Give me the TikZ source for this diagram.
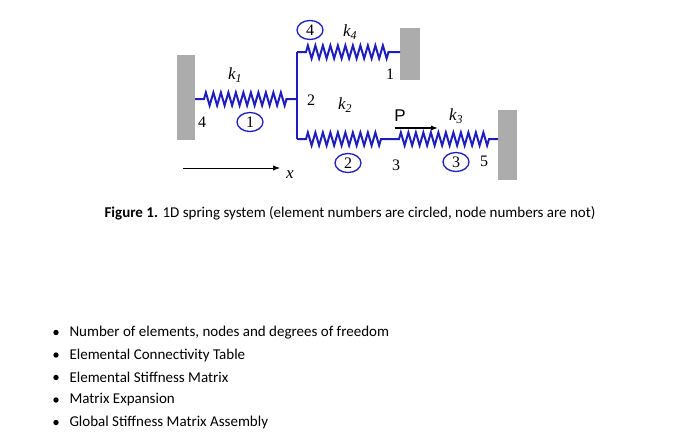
\documentclass[tikz,border=0pt]{standalone}
\usepackage{fontspec}
\setmainfont{Liberation Serif}
\newfontfamily\calfont{Carlito}
\newfontfamily\arialfont{Liberation Sans}
\usetikzlibrary{decorations.pathmorphing,arrows.meta,shapes.geometric}
\definecolor{sp}{RGB}{30,30,190}
\begin{document}
\begin{tikzpicture}[x=1pt,y=-1pt,
  wall/.style={fill=gray!65,draw=none},
  spring/.style={draw=sp,line width=2pt,decorate,decoration={zigzag,segment length=7.5pt,amplitude=6.5pt,pre length=9pt,post length=9pt}},
  bar/.style={draw=sp,line width=2pt},
  elem/.style={draw=sp,ellipse,line width=1.3pt,inner sep=0.5pt,minimum width=26pt,minimum height=19pt,font=\fontsize{16}{16}\selectfont},
  lab/.style={font=\fontsize{16}{16}\selectfont},
  kl/.style={font=\fontsize{17}{17}\selectfont\itshape},
  item/.style={anchor=west,font=\calfont\fontsize{15}{16}\selectfont}]
\useasboundingbox (0,0) rectangle (700,439);
\fill[wall] (177,55) rectangle (195,140);
\fill[wall] (400,28) rectangle (420,80);
\fill[wall] (498,110) rectangle (517,180);
\coordinate (w1) at (195,99);
\coordinate (j1) at (297,99);
\coordinate (jt) at (297,52);
\coordinate (jb) at (297,139);
\coordinate (w2) at (400,52);
\coordinate (n3) at (390,139);
\coordinate (w3) at (498,139);
\draw[spring] (w1) -- (j1);
\draw[bar] (jt) -- (jb);
\draw[spring] (jt) -- (w2);
\draw[spring] (jb) -- (n3);
\draw[spring] (n3) -- (w3);
\node[kl] (k1) at (235,75) {k\textsubscript{1}};
\node[lab] (n4) at (202,122) {4};
\node[elem] (e1) at (250,122) {1};
\node[lab] (n2) at (311,100) {2};
\node[elem] (e4) at (310,30) {4};
\node[kl] (k4) at (350,32) {k\textsubscript{4}};
\node[lab] (n1) at (390,74) {1};
\node[kl] (k2) at (345,105) {k\textsubscript{2}};
\node[font=\arialfont\fontsize{17}{17}\selectfont] (P) at (400,116) {P};
\coordinate (pa) at (395,128);
\coordinate (pb) at (438,128);
\draw[-{Latex[length=7pt]},line width=1.5pt] (pa) -- (pb);
\node[kl] (k3) at (456,116) {k\textsubscript{3}};
\node[elem] (e2) at (348,163) {2};
\node[lab] (n3l) at (396,165) {3};
\node[elem] (e3) at (456,162) {3};
\node[lab] (n5) at (484,161) {5};
\coordinate (xa) at (183,168);
\coordinate (xb) at (280,168);
\draw[-{Latex[length=7pt]},line width=0.7pt] (xa) -- (xb);
\node[kl] (xl) at (290,175) {x};
\node[font=\calfont\fontsize{15}{16}\selectfont] (cap) at (350,213) {\textbf{Figure 1.} 1D spring system (element numbers are circled, node numbers are not)};
\foreach \t [count=\i] in {{Number of elements, nodes and degrees of freedom},{Elemental Connectivity Table},{Elemental Stiffness Matrix},{Matrix Expansion},{Global Stiffness Matrix Assembly}}{
  \fill (56,{310+22.5*\i}) circle (2.7pt);
  \node[item] (b\i) at (66,{310+22.5*\i}) {\t};
}
\end{tikzpicture}
\end{document}
